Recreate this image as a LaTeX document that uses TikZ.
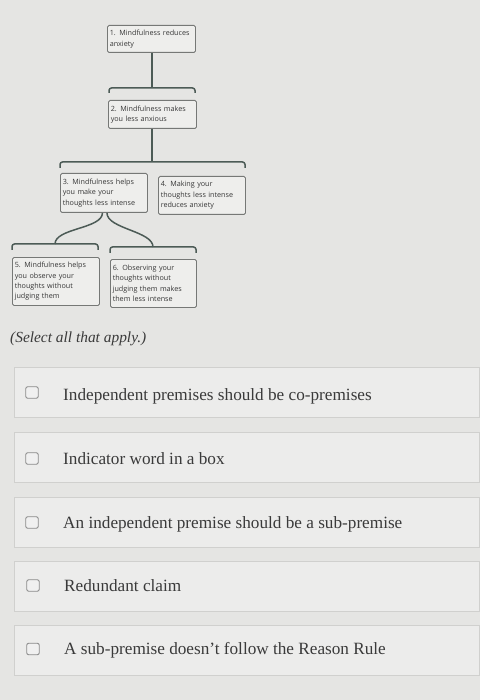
\documentclass[tikz,border=0pt]{standalone}
\usepackage{fontspec}
\setmainfont{Liberation Serif}
\newfontfamily\boxfont{Open Sans}
\definecolor{bg}{HTML}{E5E5E3}
\definecolor{boxfill}{HTML}{EEEEEC}
\definecolor{boxgray}{HTML}{767876}
\definecolor{txtgray}{HTML}{383838}
\definecolor{linkc}{HTML}{4C5B56}
\definecolor{optfill}{HTML}{ECECEB}
\definecolor{optborder}{HTML}{D0D0CE}
\definecolor{cbgray}{HTML}{8A8A8A}
\definecolor{cbfill}{HTML}{F0F0F0}
\definecolor{otxt}{HTML}{3A3A3A}
\begin{document}
\begin{tikzpicture}[x=1pt,y=-1pt,
  arg/.style={draw=boxgray, line width=0.9pt, rounded corners=1.5pt, fill=boxfill,
    anchor=north west, inner sep=2.3pt, align=left, text=txtgray,
    font=\boxfont\fontsize{7.2}{10.4}\selectfont},
  link/.style={draw=linkc, line width=1.5pt},
  brk/.style={draw=linkc, line width=1.5pt, rounded corners=2.5pt},
  opt/.style={draw=optborder, fill=optfill, line width=0.6pt, anchor=north west,
    minimum width=465pt, minimum height=50pt, inner sep=0pt},
  cbox/.style={draw=cbgray, line width=0.9pt, rounded corners=2pt, fill=cbfill,
    minimum width=12.5pt, minimum height=11.5pt, inner sep=0pt},
  otext/.style={anchor=base west, inner sep=0pt, text=otxt,
    font=\fontsize{17.2}{20}\selectfont}]
\useasboundingbox (0,0) rectangle (480,700);
\fill[bg] (0,0) rectangle (480,700);

% argument boxes
\node[arg, text width=83.4pt, minimum height=27pt] (b1) at (107,25) {1. Mindfulness reduces\\anxiety};
\node[arg, text width=83.4pt, minimum height=28pt] (b2) at (108,100) {2. Mindfulness makes\\you less anxious};
\node[arg, text width=82.4pt, minimum height=39pt] (b3) at (60,173) {3. Mindfulness helps\\you make your\\thoughts less intense};
\node[arg, text width=82.4pt, minimum height=38pt] (b4) at (158,176) {4. Making your\\thoughts less intense\\reduces anxiety};
\node[arg, text width=82.4pt, minimum height=48pt] (b5) at (12,257) {5. Mindfulness helps\\you observe your\\thoughts without\\judging them};
\node[arg, text width=81.4pt, minimum height=48pt] (b6) at (110,259) {6. Observing your\\thoughts without\\judging them makes\\them less intense};

% bracket tops
\coordinate (k1) at (152,88);
\coordinate (k2) at (152,162);
\coordinate (k3) at (55,244);
\coordinate (k4) at (153,247);

\draw[brk] (109,93) -- (109,88) -- (195,88) -- (195,93);
\draw[brk] (60,168) -- (60,162) -- (245,162) -- (245,168);
\draw[brk] (12,250) -- (12,244) -- (98,244) -- (98,250);
\draw[brk] (110,253) -- (110,247) -- (196,247) -- (196,253);

\draw[link] (b1.south -| k1) -- (k1);
\draw[link] (b2.south -| k2) -- (k2);
\draw[link] ([xshift=-1.5pt]b3.south) .. controls +(0,16) and +(0,-16) .. (k3);
\draw[link] ([xshift=3pt]b3.south) .. controls +(0,16) and +(0,-16) .. (k4);

% instruction
\node[anchor=base west, inner sep=0pt, text=otxt, font=\itshape\fontsize{15.4}{18}\selectfont] (sel) at (10,342) {(Select all that apply.)};

% options
\node[opt] (o1) at (14,367) {};
\node[opt] (o2) at (14,432) {};
\node[opt] (o3) at (14,497) {};
\node[opt] (o4) at (14,561) {};
\node[opt] (o5) at (14,625) {};

\node[cbox] (c1) at (32,392.5) {};
\node[cbox] (c2) at (32,458.5) {};
\node[cbox] (c3) at (32,522.5) {};
\node[cbox] (c4) at (33,585.5) {};
\node[cbox] (c5) at (33,649) {};

\node[otext] (t1) at (63,400) {Independent premises should be co-premises};
\node[otext] (t2) at (63,464) {Indicator word in a box};
\node[otext] (t3) at (63,528) {An independent premise should be a sub-premise};
\node[otext] (t4) at (64,591) {Redundant claim};
\node[otext] (t5) at (64,654) {A sub-premise doesn't follow the Reason Rule};
\end{tikzpicture}
\end{document}
